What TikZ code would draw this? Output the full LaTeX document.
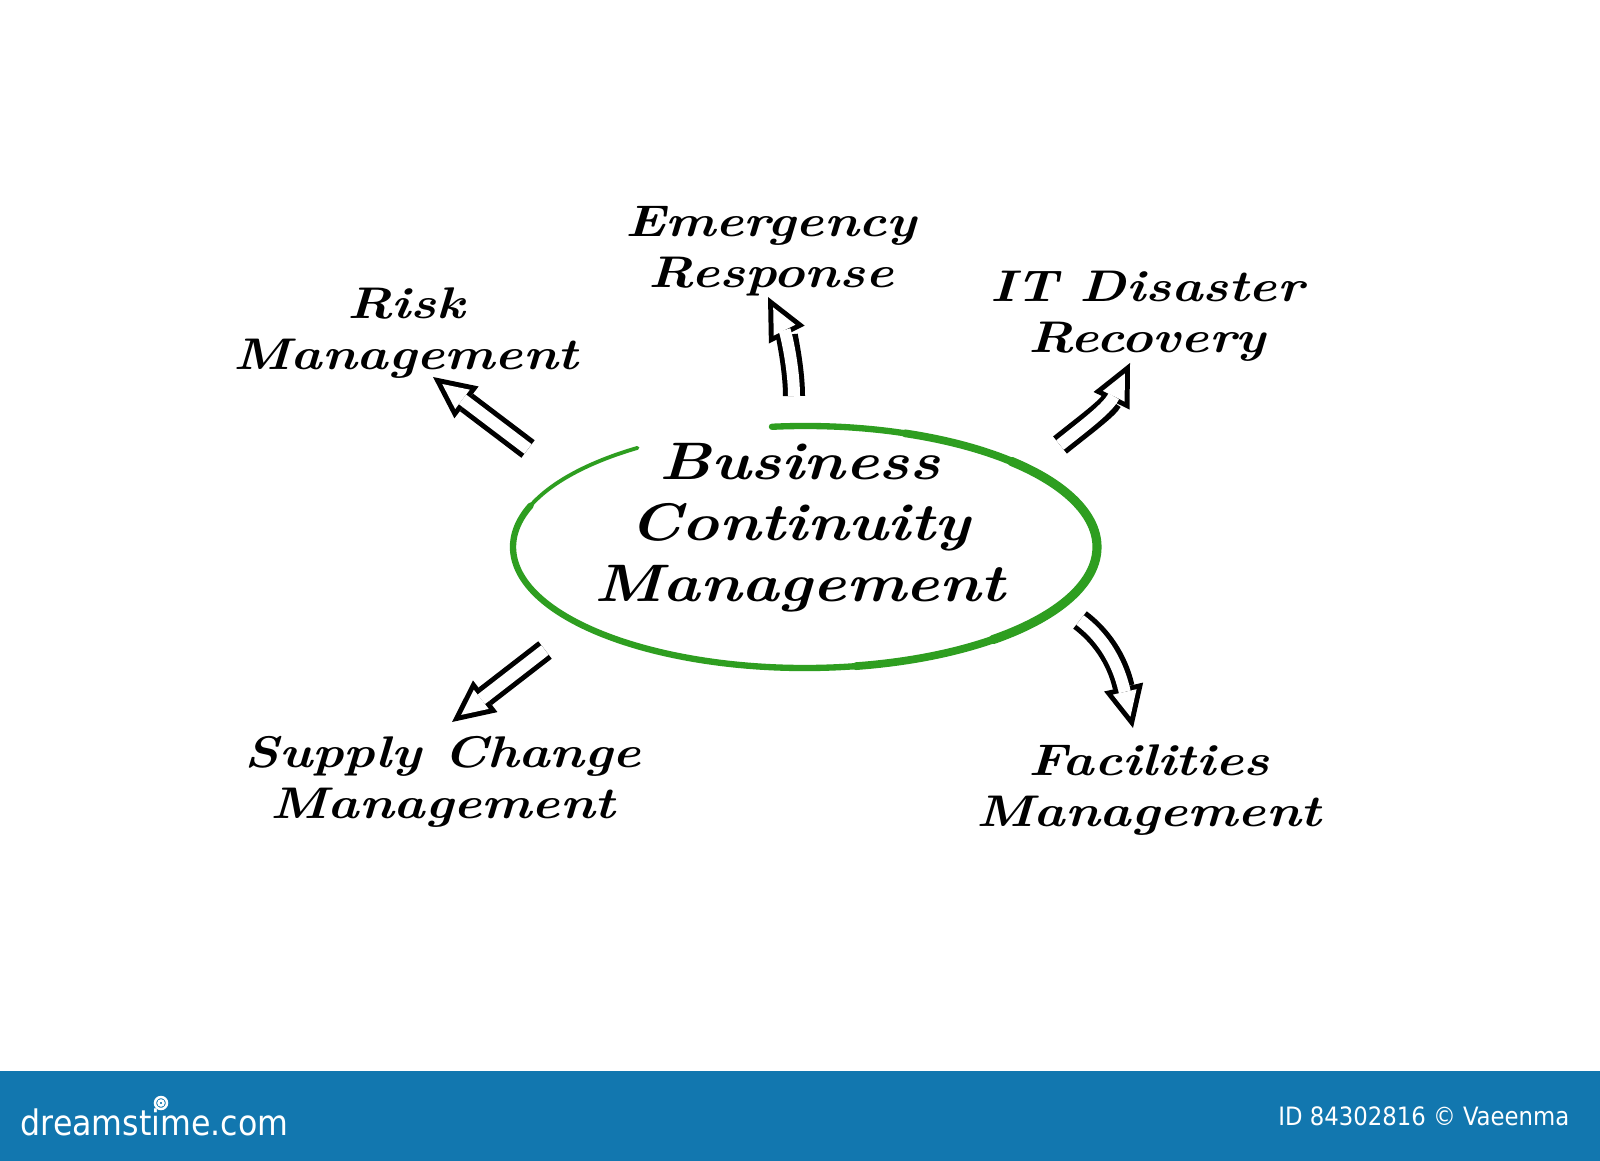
\documentclass[tikz,border=0pt]{standalone}
\usepackage{fontspec}
\usetikzlibrary{arrows.meta}
\newfontfamily\handfont{lmroman10-bolditalic.otf}[FakeStretch=1.2]
\newfontfamily\barfont{DejaVu Sans Condensed}
\definecolor{ringgreen}{RGB}{46,158,32}
\definecolor{barblue}{RGB}{18,119,175}
\tikzstyle{hub} = [align=center, inner sep=0pt, font=\handfont\fontsize{15}{17.3}\selectfont]
\tikzstyle{topic} = [align=center, inner sep=0pt, font=\handfont\fontsize{12.6}{14.5}\selectfont]
\tikzstyle{ring} = [draw=ringgreen, line width=1.8pt, line cap=round]
\tikzstyle{arrowout} = [draw=black, line width=0.22cm,
    -{Triangle[length=0.42cm, width=0.40cm, line width=0pt]}]
\tikzstyle{arrowin} = [draw=white, line width=0.12cm, shorten >=0.116cm,
    -{Triangle[length=0.254cm, width=0.242cm, line width=0pt]}]
\tikzstyle{barlogo} = [text=white, inner sep=0pt, font=\barfont\fontsize{10}{12}\selectfont]
\tikzstyle{barid} = [text=white, inner sep=0pt, font=\barfont\fontsize{7.2}{9}\selectfont]
\newcommand{\hollowarrow}[1]{\draw[arrowout] #1; \draw[arrowin] #1;}

\begin{document}
\begin{tikzpicture}[x=0.01cm, y=-0.01cm]
            \fill[white] (0,0) rectangle (1600,1161);
            \useasboundingbox (0,0) rectangle (1600,1161);
            % Ring
            \coordinate (ringc) at (805,547);
            \draw[ring] ([shift={(263.5:292 and 121)}]ringc)
                arc[start angle=263.5, end angle=560, x radius=292, y radius=121];
            \draw[ring, line width=1.1pt] ([shift={(560:292 and 121)}]ringc)
                arc[start angle=560, end angle=595, x radius=292, y radius=121];
            \draw[ring, line width=2.2pt] ([shift={(290:292 and 121)}]ringc)
                arc[start angle=290, end angle=440, x radius=292, y radius=121];
            \draw[ring, line width=2.6pt] ([shift={(315:292 and 121)}]ringc)
                arc[start angle=315, end angle=410, x radius=292, y radius=121];
            % Arrow ends
            \coordinate (risk-tail) at (528,449);
            \coordinate (risk-head) at (433,377);
            \coordinate (emer-tail) at (794,396);
            \coordinate (emer-head) at (768,297);
            \coordinate (itdr-tail) at (1060,445);
            \coordinate (itdr-head) at (1130,363);
            \coordinate (supp-tail) at (545,650);
            \coordinate (supp-head) at (452,722);
            \coordinate (faci-tail) at (1080,620);
            \coordinate (faci-head) at (1133,728);
            % Arrows
            \hollowarrow{(risk-tail) -- (risk-head)}
            \hollowarrow{(emer-tail) .. controls (794,368) and (786,333) .. (emer-head)}
            \hollowarrow{(itdr-tail) .. controls (1085,425) and (1108,408) .. (itdr-head)}
            \hollowarrow{(supp-tail) -- (supp-head)}
            \hollowarrow{(faci-tail) .. controls (1100,635) and (1117,658) .. (faci-head)}
            % Labels
            \node[hub] (bcm) at (800,528) {Business\\Continuity\\Management};
            \node[topic] (risk) at (406,333) {Risk\\Management};
            \node[topic] (emer) at (771,251) {Emergency\\Response};
            \node[topic] (itdr) at (1147,316) {IT Disaster\\Recovery};
            \node[topic] (supp) at (443,782) {Supply Change\\Management};
            \node[topic] (faci) at (1149,790) {Facilities\\Management};
            % Stock bar
            \fill[barblue] (0,1071) rectangle (1600,1161);
            \node[barlogo, anchor=west] (logo) at (20,1122) {dreamstime.com};
            \draw[white, line width=0.7pt] (161,1103) circle[radius=6];
            \draw[white, line width=0.7pt] (161,1103) circle[radius=2.5];
            \node[barid, anchor=east] (stockid) at (1570,1116) {ID 84302816 © Vaeenma};
        \end{tikzpicture}
\end{document}
